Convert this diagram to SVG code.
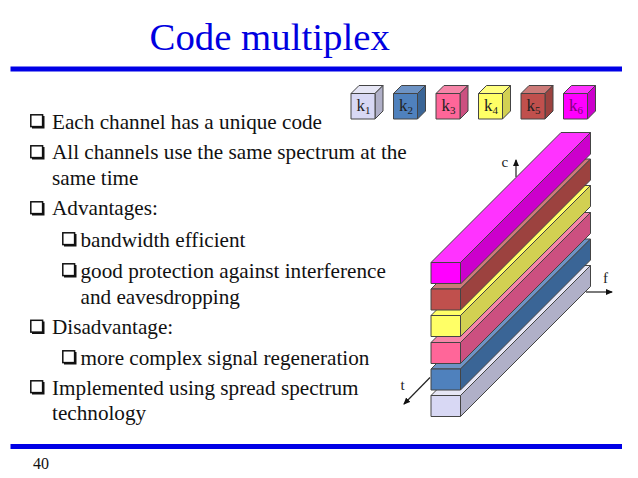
<svg xmlns="http://www.w3.org/2000/svg" width="638" height="478" viewBox="0 0 638 478">
<style>
text{font-family:"Liberation Serif","Times New Roman",serif;fill:#111}
.body{font-size:21.2px}
.title{font-size:38.8px;fill:#0000e0}
.k{font-size:17px;fill:#222}
.s{font-size:11px;fill:#222}
.ax{font-size:15px;fill:#222}
.e{stroke:#444;stroke-width:1;stroke-linejoin:round}
.ln{stroke:#222;stroke-width:1.2;fill:none}
</style>
<defs>
<g id="box"><rect x="0.8" y="0.8" width="11.8" height="11.8" fill="#fff" stroke="#111" stroke-width="1.5"/><path d="M2 13.500H13.500V2" fill="none" stroke="#111" stroke-width="2"/></g>
<marker id="ah" markerWidth="7" markerHeight="7" refX="6" refY="3" orient="auto" markerUnits="userSpaceOnUse"><path d="M0 0L7 3L0 6Z" fill="#111"/></marker>
</defs>
<rect width="638" height="478" fill="#fff"/>
<rect x="10.500" y="444" width="611.500" height="5" fill="#0000e6"/>
<rect x="10.500" y="66.500" width="611.500" height="5" fill="#0000e6"/>
<text class="title" x="149.500" y="50">Code multiplex</text>

<g id="bullets">
<use href="#box" x="30" y="114"/><text class="body" x="52" y="128.500">Each channel has a unique code</text>
<use href="#box" x="30" y="145"/><text class="body" x="52" y="159">All channels use the same spectrum at the</text>
<text class="body" x="52" y="184.500">same time</text>
<use href="#box" x="30" y="201"/><text class="body" x="52" y="215">Advantages:</text>
<use href="#box" x="62" y="232"/><text class="body" x="80.500" y="247">bandwidth efficient</text>
<use href="#box" x="62" y="263"/><text class="body" x="80.500" y="277.500">good protection against interference</text>
<text class="body" x="80.500" y="303.500">and eavesdropping</text>
<use href="#box" x="30" y="319.500"/><text class="body" x="52" y="334">Disadvantage:</text>
<use href="#box" x="62" y="350"/><text class="body" x="80.500" y="364.500">more complex signal regeneration</text>
<use href="#box" x="30" y="380"/><text class="body" x="52" y="395">Implemented using spread spectrum</text>
<text class="body" x="52" y="419.500">technology</text>
</g>
<text id="page" x="33" y="469" style="font-size:16px">40</text>

<g id="k1"><path class="e" d="M351 93.500l8-8h24l-8 8z" fill="#e6e6f5"/><path class="e" d="M375 93.500l8-8v25.500l-8 8z" fill="#b0b0c8"/><rect class="e" x="351" y="93.500" width="24" height="25.500" fill="#d8d8f4"/><text class="k" x="356.500" y="110.800">k<tspan class="s" dy="3">1</tspan></text></g>
<g id="k2"><path class="e" d="M393.500 93.500l8-8h24l-8 8z" fill="#6d93c4"/><path class="e" d="M417.500 93.500l8-8v25.500l-8 8z" fill="#3a6596"/><rect class="e" x="393.500" y="93.500" width="24" height="25.500" fill="#4f81bd"/><text class="k" x="399" y="110.800">k<tspan class="s" dy="3">2</tspan></text></g>
<g id="k3"><path class="e" d="M436 93.500l8-8h24l-8 8z" fill="#f585a8"/><path class="e" d="M460 93.500l8-8v25.500l-8 8z" fill="#cc5080"/><rect class="e" x="436" y="93.500" width="24" height="25.500" fill="#ff6699"/><text class="k" x="441.500" y="110.800">k<tspan class="s" dy="3">3</tspan></text></g>
<g id="k4"><path class="e" d="M478.500 93.500l8-8h24l-8 8z" fill="#ffff80"/><path class="e" d="M502.500 93.500l8-8v25.500l-8 8z" fill="#d2d052"/><rect class="e" x="478.500" y="93.500" width="24" height="25.500" fill="#ffff66"/><text class="k" x="484" y="110.800">k<tspan class="s" dy="3">4</tspan></text></g>
<g id="k5"><path class="e" d="M521 93.500l8-8h24l-8 8z" fill="#cc7a78"/><path class="e" d="M545 93.500l8-8v25.500l-8 8z" fill="#9c423f"/><rect class="e" x="521" y="93.500" width="24" height="25.500" fill="#c0504d"/><text class="k" x="526.500" y="110.800">k<tspan class="s" dy="3">5</tspan></text></g>
<g id="k6"><path class="e" d="M563.500 93.500l8-8h24l-8 8z" fill="#ff33ff"/><path class="e" d="M587.500 93.500l8-8v25.500l-8 8z" fill="#cc00cc"/><rect class="e" x="563.500" y="93.500" width="24" height="25.500" fill="#ff00ff"/><text class="k" x="569" y="110.800" style="fill:#800080">k<tspan class="s" dy="3" style="fill:#800080">6</tspan></text></g>

<g id="connectors">
<path class="ln" d="M516 177V160" marker-end="url(#ah)"/>
<path class="ln" d="M586 292H612" marker-end="url(#ah)"/>
<path class="ln" d="M430 377.500L404 404" marker-end="url(#ah)"/>
</g>
<text class="ax" x="501.500" y="167">c</text>
<text class="ax" x="603" y="283">f</text>
<text class="ax" x="400.500" y="390">t</text>

<g id="lane-k1"><path class="e" d="M431 395.500L561 265.500H590.500L460.500 395.500Z" fill="#e6e6f5"/><path class="e" d="M460.500 395.500L590.500 265.500V286.500L460.500 416.500Z" fill="#b0b0c8"/><rect class="e" x="431" y="395.500" width="29.500" height="21" fill="#d8d8f4"/></g>
<g id="lane-k2"><path class="e" d="M431 369L561 239H590.500L460.500 369Z" fill="#6d93c4"/><path class="e" d="M460.500 369L590.500 239V260L460.500 390Z" fill="#3a6596"/><rect class="e" x="431" y="369" width="29.500" height="21" fill="#4f81bd"/></g>
<g id="lane-k3"><path class="e" d="M431 342.500L561 212.500H590.500L460.500 342.500Z" fill="#f585a8"/><path class="e" d="M460.500 342.500L590.500 212.500V233.500L460.500 363.500Z" fill="#cc5080"/><rect class="e" x="431" y="342.500" width="29.500" height="21" fill="#ff6699"/></g>
<g id="lane-k4"><path class="e" d="M431 315.500L561 185.500H590.500L460.500 315.500Z" fill="#ffff66"/><path class="e" d="M460.500 315.500L590.500 185.500V206.500L460.500 336.500Z" fill="#d2d052"/><rect class="e" x="431" y="315.500" width="29.500" height="21" fill="#ffff66"/></g>
<g id="lane-k5"><path class="e" d="M431 289L561 159H590.500L460.500 289Z" fill="#cc7a78"/><path class="e" d="M460.500 289L590.500 159V180L460.500 310Z" fill="#9c423f"/><rect class="e" x="431" y="289" width="29.500" height="21" fill="#c0504d"/></g>
<g id="lane-k6"><path class="e" d="M431 262.500L561 132.500H590.500L460.500 262.500Z" fill="#ff33ff"/><path class="e" d="M460.500 262.500L590.500 132.500V154L460.500 284Z" fill="#cc00cc"/><rect class="e" x="431" y="262.500" width="29.500" height="21" fill="#ff00ff"/></g>
</svg>
